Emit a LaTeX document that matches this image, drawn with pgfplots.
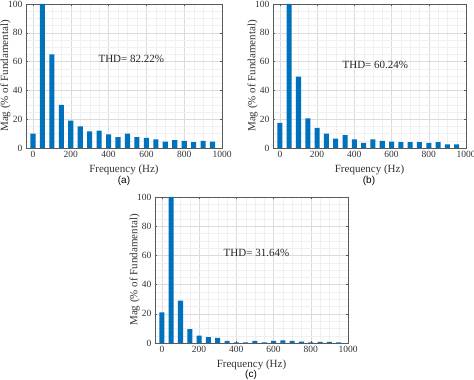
\documentclass[border=0pt]{standalone}
\usepackage{pgfplots}
\pgfplotsset{compat=1.18}
\usepackage{fontspec}
\setmainfont{Liberation Serif}
\newfontfamily\arialf{Liberation Sans}
\definecolor{mblue}{rgb}{0,0.447,0.741}
\pgfplotsset{
  thd/.style={
    scale only axis, width=193pt, height=146pt,
    xmin=-37, xmax=1000, ymin=0, ymax=100,
    xtick={0,200,400,600,800,1000}, ytick={0,20,40,60,80,100},
    minor x tick num=3, minor y tick num=3,
    grid=both,
    major grid style={gray!28, line width=0.3pt},
    minor grid style={gray!12, line width=0.2pt},
    axis line style={gray!70!black, line width=0.4pt},
    tick style={gray!70!black, line width=0.3pt},
    tick align=inside, major tick length=2pt, minor tick length=0pt,
    ticklabel style={font=\fontsize{9.5}{10}\selectfont, text=black!80},
    /pgf/number format/assume math mode=true,
    /pgf/number format/1000 sep={},
    xlabel={Frequency (Hz)}, ylabel={Mag (\% of Fundamental)},
    label style={font=\fontsize{11}{12}\selectfont, text=black!80},
    xlabel style={yshift=0pt},
    ylabel style={at={(axis description cs:-0.105,0.5)}, anchor=center, inner sep=0pt},
  },
  thdbar/.style={ybar, bar width=27, fill=mblue, draw=none, bar shift=0pt, mark=none},
}
\begin{document}
\begin{tikzpicture}[x=1pt,y=1pt]
\useasboundingbox (0,0) rectangle (474,380);
% (a)
\begin{axis}[thd, at={(26pt,232pt)}, anchor=south west, width=196pt, height=144pt]
\addplot[thdbar] coordinates {(0,10) (50,100) (100,65) (150,30) (200,19) (250,15) (300,11.5) (350,12) (400,9.5) (450,7.5) (500,10) (550,7.5) (600,7) (650,6) (700,4.5) (750,5.5) (800,5) (850,4) (900,5) (950,4.5)};
\node[font=\fontsize{11}{12}\selectfont, text=black!85] at (axis cs:520,62) {THD= 82.22\%};
\end{axis}
\node[font=\arialf\fontsize{10}{11}\selectfont] at (124,199) {(a)};
% (b)
\begin{axis}[thd, at={(273pt,232pt)}, anchor=south west, height=144pt]
\addplot[thdbar] coordinates {(0,17.5) (50,100) (100,49.5) (150,20.5) (200,14) (250,10) (300,6.5) (350,9) (400,6) (450,3.5) (500,6) (550,5) (600,4.5) (650,4) (700,4) (750,4) (800,3.5) (850,4) (900,2.5) (950,2.5)};
\node[font=\fontsize{11}{12}\selectfont, text=black!85] at (axis cs:513,58) {THD= 60.24\%};
\end{axis}
\node[font=\arialf\fontsize{10}{11}\selectfont] at (369,199) {(b)};
% (c)
\begin{axis}[thd, at={(155pt,37pt)}, anchor=south west]
\addplot[thdbar] coordinates {(0,21) (50,100) (100,29) (150,9.5) (200,5) (250,4) (300,3.5) (350,1.5) (400,0.5) (450,0.5) (500,1.5) (550,0.5) (600,1.5) (650,1.8) (700,1.5) (750,1) (800,0.5) (850,0.8) (900,0.8) (950,0.5)};
\node[font=\fontsize{11}{12}\selectfont, text=black!85] at (axis cs:508,62) {THD= 31.64\%};
\end{axis}
\node[font=\arialf\fontsize{10}{11}\selectfont] at (251,5) {(c)};
\end{tikzpicture}
\end{document}
